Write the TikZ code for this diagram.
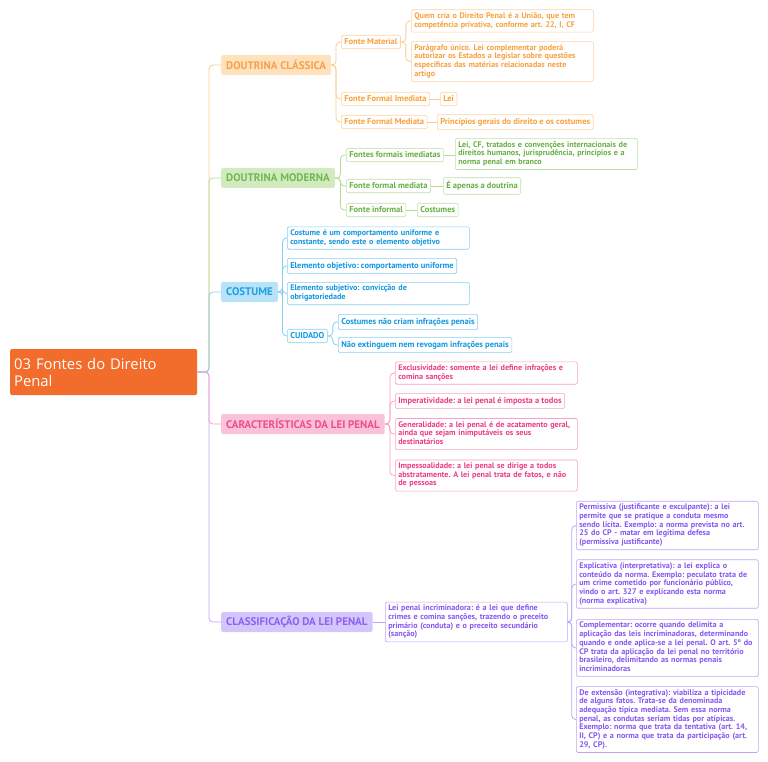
\documentclass[tikz,border=0pt]{standalone}
\usepackage{fontspec}
\setmainfont{PT Sans}
\newfontfamily\rootfont{Open Sans}
\usetikzlibrary{calc}
\frenchspacing
\newcommand\tl[1]{\begin{tabular}{@{}l@{}}#1\end{tabular}}
\definecolor{rootc}{HTML}{F26C2C}
\definecolor{orL}{HTML}{FCCB8E}\definecolor{orB}{HTML}{FDD4A2}\definecolor{orT}{HTML}{F8A13F}\definecolor{orF}{HTML}{FEE1BD}\definecolor{orH}{HTML}{F6A24A}
\definecolor{grL}{HTML}{B5DB97}\definecolor{grB}{HTML}{BFE0A5}\definecolor{grT}{HTML}{67B044}\definecolor{grF}{HTML}{D2EAC0}\definecolor{grH}{HTML}{72B851}
\definecolor{blL}{HTML}{86CFF3}\definecolor{blB}{HTML}{86CFF3}\definecolor{blT}{HTML}{1297E0}\definecolor{blF}{HTML}{B7E2F8}\definecolor{blH}{HTML}{1E9FE2}
\definecolor{pkL}{HTML}{F7A1C3}\definecolor{pkB}{HTML}{F7A1C3}\definecolor{pkT}{HTML}{EA3D84}\definecolor{pkF}{HTML}{FAC2D8}\definecolor{pkH}{HTML}{EC4F8D}
\definecolor{puL}{HTML}{BDA5FA}\definecolor{puB}{HTML}{BDA5FA}\definecolor{puT}{HTML}{8757F2}\definecolor{puF}{HTML}{D4C5FC}\definecolor{puH}{HTML}{8C62EF}
\tikzset{
  rootbox/.style={fill=rootc, rounded corners=2pt, text=white,
    font=\rootfont\fontsize{14.8}{17}\selectfont, align=left, anchor=west,
    inner xsep=4pt, minimum width=187pt, minimum height=46pt, text width=179pt},
  brbox/.style={fill=#1F, text=#1H, rounded corners=2pt,
    font=\bfseries\fontsize{11}{12}\selectfont, anchor=west, inner xsep=5pt, minimum height=20pt},
  subbox/.style={draw=#1B, text=#1T, fill=white, rounded corners=1.5pt, line width=0.6pt,
    font=\bfseries\fontsize{8.5}{8.7}\selectfont, anchor=west, align=left, inner xsep=3pt, inner ysep=3.7pt},
  wide/.style={text width=176pt, font=\bfseries\fontsize{8.1}{8.7}\selectfont, inner ysep=2.5pt},
  conn/.style={draw=#1L, line width=0.8pt, rounded corners=4pt},
}
\begin{document}
\begin{tikzpicture}[x=1pt,y=-1pt]
\useasboundingbox (0,0) rectangle (768,762);
% root
\node[rootbox] (root) at (10,372) {03 Fontes do Direito\\Penal};
% branches
\node[brbox=or] (dc) at (221,65) {DOUTRINA CLÁSSICA};
\node[brbox=gr] (dm) at (221,178) {DOUTRINA MODERNA};
\node[brbox=bl] (cos) at (221,292) {COSTUME};
\node[brbox=pk] (car) at (221,424) {CARACTERÍSTICAS DA LEI PENAL};
\node[brbox=pu] (cla) at (221,622) {CLASSIFICAÇÃO DA LEI PENAL};
% doutrina classica
\node[subbox=or] (fm) at (341,42) {Fonte Material};
\node[subbox=or, wide] (q1) at (411,21) {\tl{Quem cria o Direito Penal é a União, que tem\\competência privativa, conforme art. 22, I, CF}};
\node[subbox=or, wide] (q2) at (411,61.5) {\tl{Parágrafo único. Lei complementar poderá\\autorizar os Estados a legislar sobre questões\\específicas das matérias relacionadas neste\\artigo}};
\node[subbox=or] (ffi) at (341,99) {Fonte Formal Imediata};
\node[subbox=or] (lei) at (440,99) {Lei};
\node[subbox=or] (ffm) at (341,122) {Fonte Formal Mediata};
\node[subbox=or] (pg) at (437,122) {Princípios gerais do direito e os costumes};
% doutrina moderna
\node[subbox=gr] (gfi) at (346,155) {Fontes formais imediatas};
\node[subbox=gr, wide] (g1) at (455,154) {\tl{Lei, CF, tratados e convenções internacionais de\\direitos humanos, jurisprudência, princípios e a\\norma penal em branco}};
\node[subbox=gr] (gfm) at (346,186) {Fonte formal mediata};
\node[subbox=gr] (g2) at (443,186) {É apenas a doutrina};
\node[subbox=gr] (gfin) at (346,210) {Fonte informal};
\node[subbox=gr] (g3) at (417,210) {Costumes};
% costume
\node[subbox=bl, wide] (c1) at (287,238) {\tl{Costume é um comportamento uniforme e\\constante, sendo este o elemento objetivo}};
\node[subbox=bl] (c2) at (287,266) {Elemento objetivo: comportamento uniforme};
\node[subbox=bl, wide] (c3) at (287,293.5) {\tl{Elemento subjetivo: convicção de\\obrigatoriedade}};
\node[subbox=bl] (cuid) at (287,336) {CUIDADO};
\node[subbox=bl] (c4) at (338,322) {Costumes não criam infrações penais};
\node[subbox=bl] (c5) at (338,345) {Não extinguem nem revogam infrações penais};
% caracteristicas
\node[subbox=pk, wide] (p1) at (395,373) {\tl{Exclusividade: somente a lei define infrações e\\comina sanções}};
\node[subbox=pk] (p2) at (395,401) {Imperatividade: a lei penal é imposta a todos};
\node[subbox=pk, wide] (p3) at (395,434) {\tl{Generalidade: a lei penal é de acatamento geral,\\ainda que sejam inimputáveis os seus\\destinatários}};
\node[subbox=pk, wide] (p4) at (395,475.5) {\tl{Impessoalidade: a lei penal se dirige a todos\\abstratamente. A lei penal trata de fatos, e não\\de pessoas}};
% classificacao
\node[subbox=pu, wide] (lpi) at (385,622) {\tl{Lei penal incriminadora: é a lei que define\\crimes e comina sanções, trazendo o preceito\\primário (conduta) e o preceito secundário\\(sanção)}};
\node[subbox=pu, wide] (v1) at (576,525.5) {\tl{Permissiva (justificante e exculpante): a lei\\permite que se pratique a conduta mesmo\\sendo lícita. Exemplo: a norma prevista no art.\\25 do CP - matar em legítima defesa\\(permissiva justificante)}};
\node[subbox=pu, wide] (v2) at (576,584) {\tl{Explicativa (interpretativa): a lei explica o\\conteúdo da norma. Exemplo: peculato trata de\\um crime cometido por funcionário público,\\vindo o art. 327 e explicando esta norma\\(norma explicativa)}};
\node[subbox=pu, wide] (v3) at (576,648) {\tl{Complementar: ocorre quando delimita a\\aplicação das leis incriminadoras, determinando\\quando e onde aplica-se a lei penal. O art. 5º do\\CP trata da aplicação da lei penal no território\\brasileiro, delimitando as normas penais\\incriminadoras}};
\node[subbox=pu, wide] (v4) at (576,719.5) {\tl{De extensão (integrativa): viabiliza a tipicidade\\de alguns fatos. Trata-se da denominada\\adequação típica mediata. Sem essa norma\\penal, as condutas seriam tidas por atípicas.\\Exemplo: norma que trata da tentativa (art. 14,\\II, CP) e a norma que trata da participação (art.\\29, CP).}};
% root connectors
\coordinate (rm) at (209,372);
\draw[conn=or] (root.east) -- (rm) |- (dc.west);
\draw[conn=gr] (root.east) -- (rm) |- (dm.west);
\draw[conn=bl] (root.east) -- (rm) |- (cos.west);
\draw[conn=pu] (root.east) -- (rm) |- (cla.west);
\draw[conn=pk] (root.east) -- (rm) |- (car.west);
% group connectors
\coordinate (m1) at ($(dc.east)!.5!(fm.west |- dc.east)$);
\foreach \c in {fm,ffi,ffm} \draw[conn=or] (dc.east) -- (m1) |- (\c.west);
\coordinate (m2) at ($(fm.east)!.5!(q1.west |- fm.east)$);
\foreach \c in {q1,q2} \draw[conn=or] (fm.east) -- (m2) |- (\c.west);
\draw[conn=or] (ffi.east) -- (lei.west);
\draw[conn=or] (ffm.east) -- (pg.west);
\coordinate (m3) at ($(dm.east)!.5!(gfi.west |- dm.east)$);
\foreach \c in {gfi,gfm,gfin} \draw[conn=gr] (dm.east) -- (m3) |- (\c.west);
\draw[conn=gr] (gfi.east) -- (g1.west |- gfi.east);
\draw[conn=gr] (gfm.east) -- (g2.west);
\draw[conn=gr] (gfin.east) -- (g3.west);
\coordinate (m4) at ($(cos.east)!.5!(c1.west |- cos.east)$);
\foreach \c in {c1,c2,c3,cuid} \draw[conn=bl] (cos.east) -- (m4) |- (\c.west);
\coordinate (m5) at ($(cuid.east)!.5!(c4.west |- cuid.east)$);
\foreach \c in {c4,c5} \draw[conn=bl] (cuid.east) -- (m5) |- (\c.west);
\coordinate (m6) at ($(car.east)!.5!(p1.west |- car.east)$);
\foreach \c in {p1,p2,p3,p4} \draw[conn=pk] (car.east) -- (m6) |- (\c.west);
\draw[conn=pu] (cla.east) -- (lpi.west);
\coordinate (m7) at ($(lpi.east)!.5!(v1.west |- lpi.east)$);
\foreach \c in {v1,v2,v3,v4} \draw[conn=pu] (lpi.east) -- (m7) |- (\c.west);
\end{tikzpicture}
\end{document}
